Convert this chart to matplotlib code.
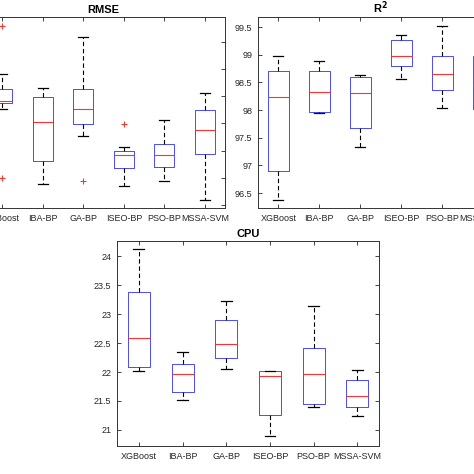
import matplotlib.pyplot as plt
from matplotlib.ticker import FormatStrFormatter

plt.rcParams['font.family'] = ['Liberation Sans', 'DejaVu Sans']

models = ["XGBoost", "IBA-BP", "GA-BP", "ISEO-BP", "PSO-BP", "MSSA-SVM"]

# box summaries: lower whisker, q1, median, q3, upper whisker
rmse_lo = [2.27, 0.88, 1.77, 0.85, 0.93, 0.58]
rmse_q1 = [2.37, 1.30, 1.99, 1.17, 1.19, 1.44]
rmse_med = [2.42, 2.02, 2.27, 1.42, 1.41, 1.88]
rmse_q3 = [2.64, 2.48, 2.64, 1.49, 1.63, 2.24]
rmse_hi = [2.91, 2.65, 3.59, 1.57, 2.07, 2.56]
rmse_out = [[3.79, 0.99], [], [0.94], [1.99], [], []]

r2_lo = [96.38, 97.95, 97.33, 98.57, 98.03, 97.70]
r2_q1 = [96.90, 97.96, 97.68, 98.79, 98.36, 98.02]
r2_med = [98.24, 98.33, 98.30, 98.98, 98.65, 98.55]
r2_q3 = [98.71, 98.70, 98.60, 99.26, 98.97, 98.98]
r2_hi = [98.97, 98.89, 98.64, 99.36, 99.52, 99.30]

cpu_lo = [22.01, 21.52, 22.05, 20.89, 21.39, 21.24]
cpu_q1 = [22.08, 21.65, 22.24, 21.26, 21.45, 21.40]
cpu_med = [22.59, 21.97, 22.48, 21.94, 21.96, 21.59]
cpu_q3 = [23.38, 22.14, 22.90, 22.01, 22.41, 21.86]
cpu_hi = [24.13, 22.35, 23.22, 22.02, 23.15, 22.04]


def make_stats(lo, q1, med, q3, hi, out=None):
    stats = []
    for i in range(len(lo)):
        stats.append({"whislo": lo[i], "q1": q1[i], "med": med[i],
                      "q3": q3[i], "whishi": hi[i],
                      "fliers": out[i] if out else []})
    return stats


def draw(ax, stats, title, ylim, yticks, show_ylabels=True):
    ax.bxp(stats, widths=0.5, capwidths=0.25, showfliers=True,
           boxprops=dict(color="#4a4aff", linewidth=0.7),
           medianprops=dict(color="#ff3030", linewidth=0.8),
           whiskerprops=dict(color="black", linewidth=0.8,
                             linestyle=(0, (4, 2.5))),
           capprops=dict(color="black", linewidth=0.9),
           flierprops=dict(marker="+", markeredgecolor="#ff3030",
                           markersize=4, markeredgewidth=0.8))
    ax.set_xticks(range(1, len(models) + 1))
    ax.set_xticklabels(models)
    ax.set_xlim(0.5, len(models) + 0.5)
    ax.set_ylim(*ylim)
    ax.set_yticks(yticks)
    ax.yaxis.set_major_formatter(FormatStrFormatter("%g"))
    ax.tick_params(direction="in", top=True, right=True, length=3,
                   width=0.6, labelsize=6.5, colors="0.15", pad=4,
                   labelleft=show_ylabels)
    for s in ax.spines.values():
        s.set_linewidth(0.7)
        s.set_color("0.2")
    ax.set_title(title, fontsize=8, fontweight="bold", pad=3)


fig = plt.figure(figsize=(4.74, 4.74), dpi=100)

# top-left panel runs off the left edge, top-right off the right edge
ax1 = fig.add_axes([-0.038, 0.561, 0.513, 0.403])
draw(ax1, make_stats(rmse_lo, rmse_q1, rmse_med, rmse_q3, rmse_hi, rmse_out),
     "RMSE", (0.44, 3.96), [0.5, 1, 1.5, 2, 2.5, 3, 3.5], show_ylabels=False)

ax2 = fig.add_axes([0.544, 0.561, 0.519, 0.403])
draw(ax2, make_stats(r2_lo, r2_q1, r2_med, r2_q3, r2_hi),
     r"R$^\mathbf{2}$", (96.23, 99.68), [96.5, 97, 97.5, 98, 98.5, 99, 99.5])

ax3 = fig.add_axes([0.247, 0.059, 0.553, 0.433])
draw(ax3, make_stats(cpu_lo, cpu_q1, cpu_med, cpu_q3, cpu_hi),
     "CPU", (20.72, 24.27), [21, 21.5, 22, 22.5, 23, 23.5, 24])

plt.savefig("out.png", dpi=100)
